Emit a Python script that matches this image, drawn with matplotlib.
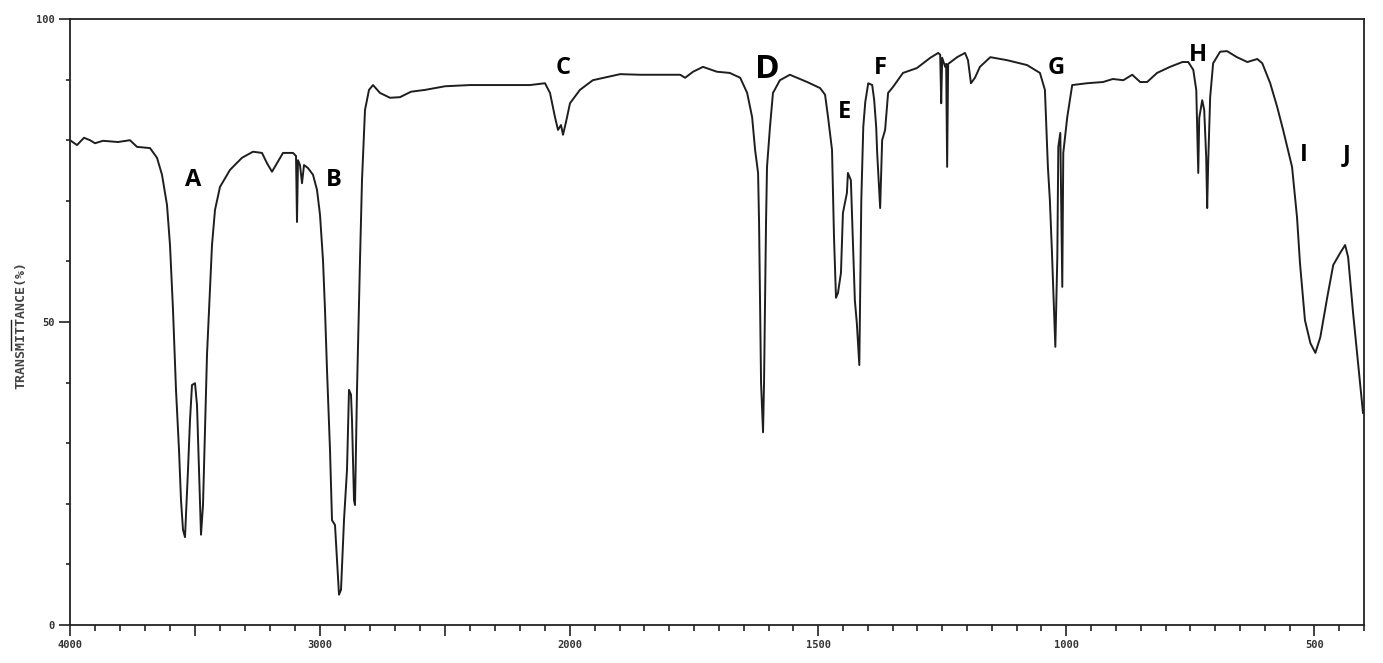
import numpy as np
import matplotlib
matplotlib.use("Agg")
import matplotlib.pyplot as plt
from matplotlib.lines import Line2D

# IR spectrum: wavenumber (cm-1) and transmittance (%)
wavenumber = [
    4000, 3972, 3944, 3920, 3900, 3868, 3808, 3760, 3732, 3680,
    3652, 3632, 3612, 3600, 3588, 3576, 3564, 3556, 3548, 3540,
    3536, 3528, 3520, 3512, 3500, 3492, 3484, 3476, 3468, 3460,
    3452, 3444, 3432, 3420, 3400, 3360, 3312, 3268, 3232, 3212,
    3192, 3172, 3148, 3108, 3096, 3092, 3088, 3080, 3072, 3064,
    3048, 3028, 3012, 3000, 2988, 2980, 2972, 2960, 2952, 2940,
    2932, 2924, 2916, 2904, 2892, 2884, 2876, 2872, 2864, 2860,
    2852, 2840, 2832, 2820, 2804, 2788, 2760, 2720, 2680, 2636,
    2580, 2500, 2400, 2160, 2100, 2080, 2060, 2048, 2036, 2028,
    2016, 2000, 1980, 1954, 1899, 1859, 1798, 1778, 1768, 1752,
    1732, 1704, 1678, 1657, 1643, 1633, 1627, 1621, 1619, 1615,
    1611, 1609, 1605, 1603, 1597, 1591, 1577, 1557, 1522, 1496,
    1486, 1480, 1472, 1468, 1464, 1460, 1454, 1450, 1442, 1440,
    1434, 1430, 1426, 1422, 1417, 1413, 1409, 1405, 1399, 1391,
    1387, 1383, 1381, 1377, 1375, 1371, 1365, 1359, 1349, 1329,
    1301, 1274, 1258, 1254, 1252, 1250, 1244, 1242, 1240, 1238,
    1236, 1220, 1204, 1198, 1192, 1184, 1174, 1153, 1119, 1079,
    1053, 1043, 1037, 1033, 1029, 1022, 1018, 1016, 1012, 1008,
    1006, 998, 988, 958, 926, 906, 885, 867, 851, 837,
    817, 791, 766, 754, 744, 738, 734, 732, 726, 722,
    718, 716, 714, 710, 704, 690, 676, 656, 635, 615,
    605, 589, 575, 563, 545, 535, 529, 519, 508, 498,
    488, 474, 462, 448, 438, 432, 422, 412, 402,
]
transmittance = [
    80.0, 79.2, 80.4, 80.0, 79.5, 79.9, 79.7, 80.0, 78.9, 78.7,
    77.1, 74.3, 69.3, 62.7, 52.0, 38.8, 28.9, 20.6, 15.7, 14.5,
    18.2, 25.6, 33.8, 39.6, 39.9, 36.3, 25.6, 14.9, 19.8, 32.2,
    44.6, 52.0, 62.7, 68.5, 72.3, 75.1, 77.1, 78.1, 77.9, 76.2,
    74.8, 76.2, 77.9, 77.9, 77.4, 66.5, 76.7, 75.9, 72.9, 75.9,
    75.4, 74.3, 71.8, 67.7, 60.2, 52.0, 42.1, 28.9, 17.3, 16.5,
    10.7, 5.0, 5.8, 17.3, 25.6, 38.8, 38.0, 33.8, 20.6, 19.8,
    38.8, 60.2, 73.4, 85.0, 88.3, 89.1, 87.8, 87.0, 87.1, 88.0,
    88.3, 88.9, 89.1, 89.1, 89.4, 87.8, 83.8, 81.7, 82.5, 80.9,
    83.0, 86.1, 88.3, 89.9, 90.9, 90.8, 90.8, 90.8, 90.3, 91.3,
    92.1, 91.3, 91.1, 90.3, 87.8, 83.8, 78.4, 74.6, 66.3, 39.9,
    31.8, 39.9, 66.3, 75.6, 82.2, 87.8, 89.9, 90.8, 89.6, 88.6,
    87.5, 83.8, 78.4, 64.0, 54.0, 54.8, 58.1, 68.0, 71.3, 74.6,
    73.4, 63.5, 53.6, 49.8, 42.9, 70.1, 82.2, 86.3, 89.4, 89.1,
    86.6, 82.2, 77.9, 71.8, 68.8, 80.0, 81.7, 87.8, 88.8, 91.1,
    91.9, 93.6, 94.4, 94.1, 86.1, 93.6, 92.1, 92.6, 75.6, 92.6,
    92.7, 93.7, 94.4, 93.2, 89.4, 90.3, 92.1, 93.7, 93.2, 92.4,
    91.1, 88.3, 75.6, 70.1, 61.9, 45.9, 60.7, 78.9, 81.2, 55.8,
    77.9, 83.8, 89.1, 89.4, 89.6, 90.1, 89.9, 90.8, 89.6, 89.6,
    91.1, 92.1, 92.9, 92.9, 91.6, 88.3, 74.6, 83.7, 86.6, 85.0,
    77.2, 68.8, 76.2, 87.1, 92.7, 94.6, 94.7, 93.7, 92.9, 93.4,
    92.7, 89.4, 85.5, 81.7, 75.6, 67.3, 59.7, 50.3, 46.5, 44.9,
    47.5, 54.1, 59.4, 61.4, 62.7, 60.7, 51.5, 43.2, 35.0,
]

peak_labels = ["A", "B", "C", "D", "E", "F", "G", "H", "I", "J"]
label_wn = [3508, 2944, 2028, 1603, 1446, 1375, 1020, 734, 521, 434]
label_t = [73.4, 73.4, 91.9, 91.6, 84.7, 91.9, 91.9, 94.1, 77.6, 77.6]

x_tick_labels = [4000, 3000, 2000, 1500, 1000, 500]
y_tick_labels = [0, 50, 100]


# chart paper has a scale change at 2000 cm-1 (twice as wide below 2000)
def fwd(w):
    w = np.asarray(w, dtype=float)
    return np.where(w >= 2000, w - 2000, (w - 2000) * 1.985)


def inv(u):
    u = np.asarray(u, dtype=float)
    return np.where(u >= 0, u + 2000, u / 1.985 + 2000)


fig = plt.figure(figsize=(13.83, 6.63), dpi=100)
ax = fig.add_axes([70 / 1383, 38 / 663, 1294 / 1383, 606 / 663])

ax.plot(wavenumber, transmittance, color="#1e1e1e", lw=1.4)

ax.set_xscale("function", functions=(fwd, inv))
ax.set_xlim(4000, 400)
ax.set_ylim(0, 100)

minor_x = list(range(4000, 2000, -100)) + list(range(2000, 399, -50))
major_x = [4000, 3500, 3000, 2500, 2000, 1500, 1000, 500]
ax.set_xticks(major_x)
ax.set_xticklabels([str(v) if v in x_tick_labels else "" for v in major_x])
ax.set_xticks([v for v in minor_x if v not in major_x], minor=True)

ax.set_yticks(y_tick_labels)
ax.set_yticklabels([str(v) for v in y_tick_labels])
ax.set_yticks([v for v in range(0, 101, 10) if v not in y_tick_labels], minor=True)

for lab in ax.get_xticklabels() + ax.get_yticklabels():
    lab.set_fontfamily("DejaVu Sans Mono")
    lab.set_fontsize(7.5)
    lab.set_fontweight("bold")
    lab.set_color("#333333")

ax.tick_params(axis="both", which="major", direction="out", length=8,
               width=1.2, color="#222222", pad=3)
ax.tick_params(axis="y", which="minor", direction="out", length=3,
               width=1.2, color="#222222")
ax.tick_params(axis="x", which="minor", direction="out", length=4,
               width=1.2, color="#222222")

for sp in ax.spines.values():
    sp.set_color("#222222")
    sp.set_linewidth(1.3)

# y label, old plotter style
fig.text(21 / 1383, 1 - 325 / 663, "TRANSMITTANCE(%)",
         rotation=90, ha="center", va="center", fontsize=9.5,
         family="DejaVu Sans Mono", weight="bold", color="#444444")
fig.add_artist(Line2D([11 / 1383, 11 / 1383], [1 - 320 / 663, 1 - 350 / 663],
                      color="#222222", lw=1))

for lab, w, t in zip(peak_labels, label_wn, label_t):
    size = 24 if lab == "D" else 17
    ax.text(w, t, lab, ha="center", va="center", fontsize=size,
            family="Open Sans", weight="bold", color="black")

fig.savefig("out.png", dpi=100, facecolor="white")
